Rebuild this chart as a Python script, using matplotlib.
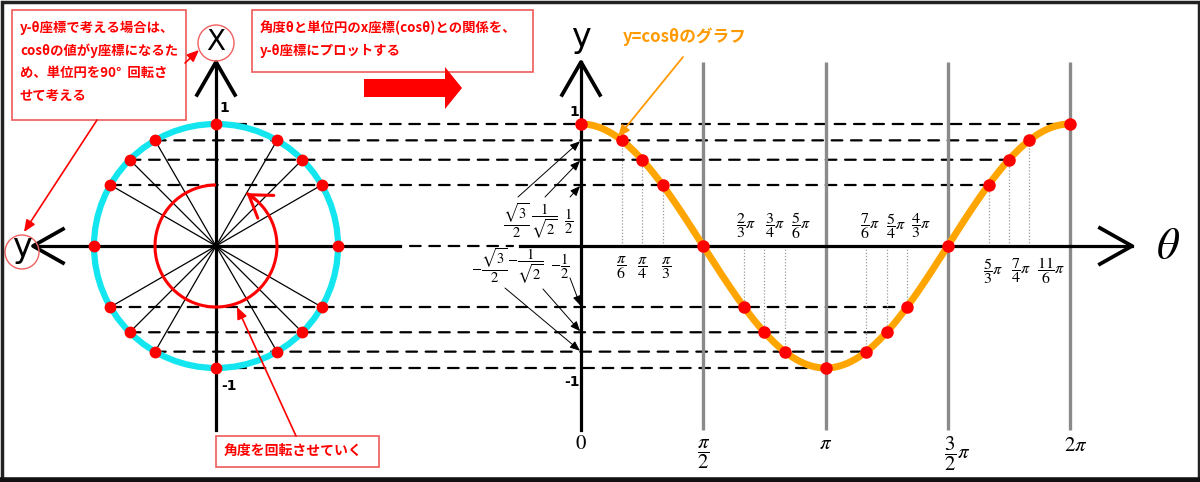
import numpy as np
import matplotlib
matplotlib.use('Agg')
import matplotlib.pyplot as plt
from matplotlib.patches import Circle, Arc, Rectangle, Polygon, ConnectionPatch

plt.rcParams['font.family'] = ['Noto Sans CJK JP', 'DejaVu Sans']
plt.rcParams['mathtext.fontset'] = 'stix'

# ---------------- data ----------------
angles_pi = [0, 1/6, 1/4, 1/3, 1/2, 2/3, 3/4, 5/6, 1, 7/6, 5/4, 4/3, 3/2, 5/3, 7/4, 11/6, 2]
cos_vals = [1, 0.866, 0.707, 0.5, 0, -0.5, -0.707, -0.866, -1,
            -0.866, -0.707, -0.5, 0, 0.5, 0.707, 0.866, 1]
sin_vals = [0, 0.5, 0.707, 0.866, 1, 0.866, 0.707, 0.5, 0,
            -0.5, -0.707, -0.866, -1, -0.866, -0.707, -0.5, 0]
level_vals = [1, 0.866, 0.707, 0.5, -0.5, -0.707, -0.866, -1]

major_ticks_pi = [0, 1/2, 1, 3/2, 2]
major_tick_labels = [r'$0$', r'$\dfrac{\pi}{2}$', r'$\pi$', r'$\dfrac{3}{2}\pi$', r'$2\pi$']
minor_ticks_pi = [1/6, 1/4, 1/3, 2/3, 3/4, 5/6, 7/6, 5/4, 4/3, 5/3, 7/4, 11/6]
minor_tick_labels = [r'$\dfrac{\pi}{6}$', r'$\dfrac{\pi}{4}$', r'$\dfrac{\pi}{3}$',
                     r'$\dfrac{2}{3}\pi$', r'$\dfrac{3}{4}\pi$', r'$\dfrac{5}{6}\pi$',
                     r'$\dfrac{7}{6}\pi$', r'$\dfrac{5}{4}\pi$', r'$\dfrac{4}{3}\pi$',
                     r'$\dfrac{5}{3}\pi$', r'$\dfrac{7}{4}\pi$', r'$\dfrac{11}{6}\pi$']
pos_level_labels = [r'$\dfrac{\sqrt{3}}{2}$', r'$\dfrac{1}{\sqrt{2}}$', r'$\dfrac{1}{2}$']
pos_level_targets = [0.866, 0.707, 0.5]
neg_level_labels = [r'$-\dfrac{\sqrt{3}}{2}$', r'$-\dfrac{1}{\sqrt{2}}$', r'$-\dfrac{1}{2}$']
neg_level_targets = [-0.866, -0.707, -0.5]

box1_lines = ['y-θ座標で考える場合は、', 'cosθの値がy座標になるた', 'め、単位円を90°  回転さ', 'せて考える']
box2_lines = ['角度θと単位円のx座標(cosθ)との関係を、', 'y-θ座標にプロットする']
box3_text = '角度を回転させていく'
curve_label = 'y=cosθのグラフ'

angles = np.array(angles_pi) * np.pi

# ---------------- layout ----------------
W, H = 1200, 482
fig = plt.figure(figsize=(W / 100, H / 100), dpi=100)
PX = 122.0                       # px per unit (vertical, and circle)
PXT = 122.25 / (np.pi / 2)       # px per radian on theta axis
cx, cy = 216, 246                # circle centre (px, top origin)
gx = 581                         # graph origin x px
split = 432

ax_c = fig.add_axes([0, 0, split / W, 1])
ax_c.set_xlim(cx / PX, -(split - cx) / PX)
ax_c.set_ylim(-(H - cy) / PX, cy / PX)
ax_c.axis('off')
ax_c.set_zorder(1)

ax_g = fig.add_axes([split / W, 0, (W - split) / W, 1])
ax_g.set_xlim((split - gx) / PXT, (W - gx) / PXT)
ax_g.set_ylim(-(H - cy) / PX, cy / PX)
ax_g.axis('off')
ax_g.set_zorder(2)

ov = fig.add_axes([0, 0, 1, 1])
ov.set_xlim(0, W)
ov.set_ylim(H, 0)
ov.axis('off')
ov.set_zorder(3)

AX_LW = 2.3
top = 1.508

# ---------------- dashed projection lines ----------------
dash = (0, (4.8, 3.9))
for lv in level_vals:
    idx = [i for i, c in enumerate(cos_vals) if c == lv]
    s_start = max(sin_vals[i] for i in idx)
    th_end = max(angles[i] for i in idx)
    con = ConnectionPatch(xyA=(s_start, lv), coordsA=ax_c.transData,
                          xyB=(th_end, lv), coordsB=ax_g.transData,
                          linestyle=dash, lw=1.6, color='black', zorder=1, clip_on=False)
    ax_c.add_artist(con)
con0 = ConnectionPatch(xyA=(-1.59, 0), coordsA=ax_c.transData,
                       xyB=(-0.874, 0), coordsB=ax_g.transData,
                       linestyle=dash, lw=1.6, color='black', zorder=1, clip_on=False)
ax_c.add_artist(con0)

# ---------------- unit circle (rotated 90 deg) ----------------
ax_c.add_patch(Circle((0, 0), 1, fill=False, ec='#14e6f0', lw=4.5, zorder=2))
for s, c, a in zip(sin_vals[:-1], cos_vals[:-1], angles_pi[:-1]):
    if (a * 2) % 1 != 0:
        ax_c.plot([0, s], [0, c], color='black', lw=0.9, zorder=3)
ax_c.plot([1.484, -1.508], [0, 0], color='black', lw=AX_LW, zorder=3)
ax_c.plot([0, 0], [-top, top], color='black', lw=AX_LW, zorder=3)
ax_c.plot([0.156, 0, -0.156], [1.238, top, 1.238], color='black', lw=AX_LW + 0.4, zorder=3)
ax_c.plot([1.254, 1.5, 1.254], [0.139, 0, -0.139], color='black', lw=AX_LW + 0.4, zorder=3)
ax_c.add_patch(Arc((0, 0), 1.0, 1.0, theta1=-240, theta2=90, color='red', lw=2.2, zorder=4))
ax_c.annotate('', xy=(-0.25, 0.433), xytext=(-0.321, 0.383),
              arrowprops=dict(arrowstyle='->,head_length=1.5,head_width=1.0',
                              color='red', lw=2.2, shrinkA=0, shrinkB=0), zorder=4)
ax_c.plot(sin_vals[:-1], cos_vals[:-1], 'o', color='red', ms=7.5, zorder=6)

# ---------------- graph ----------------
ax_g.vlines([angles[i] for i in range(len(angles)) if angles_pi[i] in major_ticks_pi[1:]],
            -top, top, color='#8a8a8a', lw=2.4, zorder=1)
ax_g.plot([0, 0], [-top, top], color='black', lw=AX_LW, zorder=3)
ax_g.plot([-0.784, 7.08], [0, 0], color='black', lw=AX_LW, zorder=3)
ax_g.plot([-0.244, 0, 0.244], [1.238, top, 1.238], color='black', lw=AX_LW + 0.4, zorder=3)
ax_g.plot([6.668, 7.08, 6.668], [0.148, 0, -0.148], color='black', lw=AX_LW + 0.4, zorder=3)
for a, c, ap in zip(angles, cos_vals, angles_pi):
    if (ap * 2) % 1 != 0:
        ax_g.plot([a, a], [0, c], color='#9a9a9a', lw=0.9, ls=(0, (1, 1.5)), zorder=2)
th = np.linspace(0, 2 * np.pi, 400)
ax_g.plot(th, np.cos(th), color='#FFA500', lw=5, zorder=4, solid_capstyle='butt')
ax_g.plot(angles, cos_vals, 'o', color='red', ms=8, zorder=6)

# tick labels
major_offsets = [(0, -197), (0, -208), (0, -197), (9, -208), (6, -199)]
for tp, lab, (dx, dy) in zip(major_ticks_pi, major_tick_labels, major_offsets):
    ax_g.annotate(lab, xy=(tp * np.pi, 0), xytext=(dx, dy), textcoords='offset pixels',
                  ha='center', va='center', fontsize=15)
minor_offsets = [(0, -22), (0, -22), (4, -22),
                 (2, 20), (11, 20), (17, 20),
                 (4, 20), (10, 20), (14, 20),
                 (5, -25), (12, -25), (22, -25)]
for tp, lab, (dx, dy) in zip(minor_ticks_pi, minor_tick_labels, minor_offsets):
    ax_g.annotate(lab, xy=(tp * np.pi, 0), xytext=(dx, dy), textcoords='offset pixels',
                  ha='center', va='center', fontsize=11.5)

# level labels with arrows
pos_pos = [(516, 221), (544, 221), (569, 221)]
pos_start = [(518, 197), (545, 197), (570, 197)]
for lab, (x, y) in zip(pos_level_labels, pos_pos):
    ov.text(x, y, lab, ha='center', va='center', fontsize=10.5)
for tgt, st in zip(pos_level_targets, pos_start):
    ax_g.annotate('', xy=(0, tgt), xycoords=ax_g.transData, xytext=st, textcoords=ov.transData,
                  arrowprops=dict(arrowstyle='-|>,head_length=0.6,head_width=0.25', lw=0.7,
                                  color='black', shrinkA=0, shrinkB=1), zorder=5)
neg_pos = [(489, 266), (525, 266), (560, 266)]
neg_start = [(505, 288), (543, 289), (570, 278)]
for lab, (x, y) in zip(neg_level_labels, neg_pos):
    ov.text(x, y, lab, ha='center', va='center', fontsize=10.5)
for tgt, st in zip(neg_level_targets, neg_start):
    ax_g.annotate('', xy=(0, tgt), xycoords=ax_g.transData, xytext=st, textcoords=ov.transData,
                  arrowprops=dict(arrowstyle='-|>,head_length=0.6,head_width=0.25', lw=0.7,
                                  color='black', shrinkA=0, shrinkB=1), zorder=5)

# axis names
ov.text(216, 42, 'X', ha='center', va='center', fontsize=20, family='DejaVu Sans')
ov.add_patch(Circle((216, 43), 18, fill=False, ec='#f06060', lw=1.0))
ov.text(22, 248, 'y', ha='center', va='center', fontsize=24, family='DejaVu Sans')
ov.add_patch(Circle((22, 252), 17, fill=False, ec='#f06060', lw=1.0))
ov.text(581, 37, 'y', ha='center', va='center', fontsize=24, family='DejaVu Sans')
ov.text(1168, 246, r'$\theta$', ha='center', va='center', fontsize=32)
ov.text(224, 108, '1', ha='center', va='center', fontsize=10, fontweight='bold', family='DejaVu Sans')
ov.text(229, 386, '-1', ha='center', va='center', fontsize=10, fontweight='bold', family='DejaVu Sans')
ov.text(574, 112, '1', ha='center', va='center', fontsize=10, fontweight='bold', family='DejaVu Sans')
ov.text(572, 382, '-1', ha='center', va='center', fontsize=10, fontweight='bold', family='DejaVu Sans')

# annotation boxes
red = '#ff0000'
box_ec = '#f05a5a'
ov.add_patch(Rectangle((12, 10), 174, 110, fc='white', ec=box_ec, lw=1.2))
for i, line in enumerate(box1_lines):
    ov.text(20, 28 + i * 22.7, line, color=red, fontsize=9.6, fontweight='bold', ha='left', va='center')
ov.add_patch(Rectangle((252, 10), 281, 62, fc='white', ec=box_ec, lw=1.2))
for i, line in enumerate(box2_lines):
    ov.text(260, 28 + i * 23, line, color=red, fontsize=9.6, fontweight='bold', ha='left', va='center')
ov.add_patch(Rectangle((216, 436), 163, 31, fc='white', ec=box_ec, lw=1.2))
ov.text(224, 451, box3_text, color=red, fontsize=10, fontweight='bold', ha='left', va='center')

arr = dict(arrowstyle='-|>,head_length=0.7,head_width=0.3', color=red, lw=1.2, shrinkA=0, shrinkB=0)
ov.annotate('', xy=(199, 50), xytext=(185, 63), arrowprops=arr)
ov.annotate('', xy=(24, 232), xytext=(97, 120), arrowprops=arr)
ov.annotate('', xy=(237, 307), xytext=(296, 436), arrowprops=arr)

ov.add_patch(Polygon([(364, 79), (445, 79), (445, 67), (462, 88), (445, 109), (445, 97), (364, 97)],
                     closed=True, fc=red, ec='none'))

ov.text(623, 37, curve_label, color='#FF9900', fontsize=12, fontweight='bold', ha='left', va='center')
ov.annotate('', xy=(618, 137), xytext=(683, 57),
            arrowprops=dict(arrowstyle='-|>,head_length=0.7,head_width=0.3', color='#FF9900',
                            lw=1.3, shrinkA=0, shrinkB=0))

# frame
ov.add_patch(Rectangle((1.5, 1.5), W - 3, H - 4, fill=False, ec='#222222', lw=2.5))
ov.plot([0, W], [479.5, 479.5], color='#111111', lw=4)

fig.savefig('out.png', dpi=100)
